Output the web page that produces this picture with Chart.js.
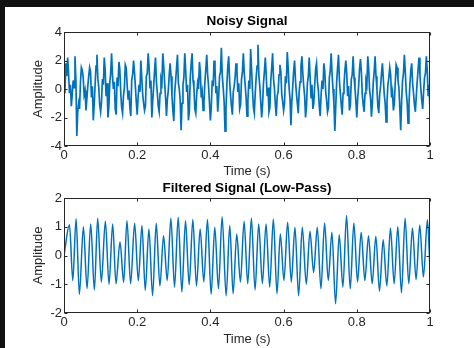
<!DOCTYPE html>
<html>
<head>
<meta charset="utf-8">
<script src="https://cdn.jsdelivr.net/npm/chart.js@4"></script>
<style>
html, body { margin: 0; padding: 0; background: #fff; }
#wrap { position: relative; width: 474px; height: 348px; overflow: hidden; background: #fff; }
canvas { position: absolute; left: 0; }
#topChart { top: 0; }
#botChart { top: 180px; }
.edge { position: absolute; background: #111; }
</style>
</head>
<body>
<div id="wrap">
  <canvas id="topChart" width="474" height="180" style="width:474px;height:180px"></canvas>
  <canvas id="botChart" width="474" height="168" style="width:474px;height:168px"></canvas>
  <div class="edge" style="left:0;top:0;width:474px;height:7px"></div>
  <div class="edge" style="left:0;top:0;width:5px;height:348px"></div>
</div>
<script>
// tick labels
const timeTicks = [0, 0.2, 0.4, 0.6, 0.8, 1];
const noisyTicks = [-4, -2, 0, 2, 4];
const filteredTicks = [-2, -1, 0, 1, 2];

// noisy signal, every 2.5 ms
const noisyDt = 0.0025;
const noisyAmp = [
  0.4, -0.3, 1.8, 0.9, 2.2, 1.1, -0.3, 0.3, -1.2, -0.4,
  0.6, 0.1, 2.3, 0.6, -3.3, -1.6, -1.0, -1.4, 0.5, 1.5,
  1.3, 0.8, -0.4, -0.1, -1.5, -0.7, 0.2, 0.9, 1.5, 1.2,
  -0.6, 0.2, -2.2, -1.1, 0.3, 1.6, 2.4, 0.7, 0.1, -1.1,
  -1.6, -0.9, 0.7, 0.3, 2.2, 1.3, -0.5, 0.4, -2.0, -1.3,
  0.4, 1.1, 2.5, 0.9, 0.0, 0.5, -1.4, -1.8, 0.8, 0.2,
  1.9, 1.4, -0.2, -1.3, -1.7, -0.5, 0.1, 1.7, 1.5, 0.3,
  -0.7, -0.1, -1.3, -1.9, 0.6, 1.0, 2.0, 1.2, 0.2, -0.9,
  -1.8, -0.6, 0.3, -0.2, 2.0, 0.8, -0.4, -1.0, -1.5, -1.2,
  0.9, 1.1, 2.5, 1.5, 0.1, 0.6, -2.0, -0.8, 0.2, 1.3,
  2.2, 0.5, -0.3, -1.2, -1.6, -0.3, 0.7, 0.4, 2.5, 1.6,
  0.4, -0.6, -1.9, -0.7, -0.1, 1.0, 1.8, 0.9, -0.5, -1.5,
  -2.25, -0.2, 0.6, 1.5, 2.4, 0.4, 0.0, -0.8, -2.9, -1.0,
  0.3, 0.8, 2.5, 1.3, -0.2, 0.3, -2.2, -1.5, 0.8, 1.8,
  2.5, 0.6, 0.1, -1.4, -1.7, -0.4, 0.4, 0.0, 1.9, 1.2,
  -0.6, -0.2, -1.5, -0.9, 0.5, 1.4, 2.4, 1.0, 0.2, -1.0,
  -2.2, -1.2, 0.6, 0.2, 2.0, 1.5, -0.3, 0.2, -1.6, -0.6,
  0.9, 1.2, 2.9, 0.9, 0.1, -0.9, -2.95, -1.4, 0.3, 1.6,
  2.3, 0.6, -0.4, -1.2, -1.8, -0.2, 0.2, 0.8, 1.8, 1.3,
  -0.2, 0.4, -1.4, -1.1, 0.7, 1.2, 2.5, 1.1, 0.3, -0.6,
  -1.9, -0.8, 0.6, 0.0, 2.8, 1.4, -0.1, -1.3, -1.7, -0.3,
  0.8, 1.6, 3.1, 0.9, 0.2, -0.9, -2.0, -1.1, 0.4, 1.2,
  2.2, 1.0, -0.5, 0.1, -1.6, -1.3, 0.6, 1.5, 2.5, 0.7,
  0.0, -1.1, -1.9, -0.5, -0.2, 1.0, 1.7, 1.2, -0.4, -0.9,
  -1.5, -1.0, 0.9, 0.4, 2.6, 1.5, 0.1, -0.7, -2.55, -0.9,
  0.2, 1.3, 2.0, 0.6, -0.3, -1.0, -1.7, -0.2, 0.5, 1.6,
  2.3, 1.1, 0.2, -0.5, -2.0, -1.2, 0.4, 0.9, 2.2, 0.8,
  -0.6, 0.3, -1.4, -1.0, 0.3, 1.4, 1.8, 0.5, -0.1, -1.2,
  -1.9, -0.4, 0.6, 0.0, 1.8, 1.2, -0.2, -0.8, -1.6, -1.3,
  0.8, 1.3, 2.5, 1.0, 0.0, -1.0, -2.95, -1.2, 0.5, 1.5,
  2.4, 0.6, -0.3, -1.1, -1.8, -0.3, 0.3, 1.3, 2.0, 1.1,
  -0.5, 0.2, -1.5, -1.1, 0.7, 1.0, 2.3, 0.8, 0.1, -0.9,
  -2.0, -0.6, 0.2, 1.4, 2.1, 1.2, -0.4, -1.1, -1.6, -0.3,
  0.6, 0.3, 2.3, 1.4, -0.1, -0.6, -1.95, -1.0, 0.5, 1.2,
  2.3, 0.9, 0.0, -1.2, -1.7, -0.4, 0.2, 1.1, 1.8, 0.7,
  -0.4, -1.0, -2.3, -0.9, 0.3, 0.8, 1.5, 1.0, -0.6, -0.2,
  -1.5, -1.0, 0.4, 1.7, 1.5, 0.6, 0.1, -1.3, -2.9, -0.8,
  0.6, 1.1, 2.4, 1.2, -0.2, -0.9, -2.4, -1.1, 0.3, 1.3,
  1.8, 0.4, -0.3, -1.1, -1.6, -0.5, 0.5, 1.4, 2.2, 1.0,
  0.0, -0.8, -1.4, -0.2, 0.8, 1.1, 2.3, 1.3, -0.5, 0.3,
  -1.5
];

// filtered signal: peaks and troughs (time in s, amplitude)
const filteredTime = [
  0, 0.015, 0.024, 0.033, 0.042, 0.053, 0.063, 0.073, 0.083, 0.092,
  0.102, 0.113, 0.123, 0.133, 0.142, 0.153, 0.163, 0.172, 0.182, 0.193,
  0.203, 0.213, 0.222, 0.232, 0.242, 0.252, 0.262, 0.272, 0.282, 0.292,
  0.302, 0.312, 0.322, 0.332, 0.342, 0.352, 0.362, 0.372, 0.382, 0.392,
  0.402, 0.412, 0.422, 0.432, 0.443, 0.453, 0.462, 0.472, 0.482, 0.492,
  0.502, 0.512, 0.522, 0.532, 0.542, 0.552, 0.562, 0.572, 0.582, 0.591,
  0.601, 0.611, 0.621, 0.631, 0.641, 0.651, 0.662, 0.672, 0.682, 0.692,
  0.702, 0.712, 0.722, 0.732, 0.742, 0.752, 0.762, 0.772, 0.782, 0.792,
  0.802, 0.812, 0.822, 0.832, 0.842, 0.852, 0.862, 0.872, 0.882, 0.892,
  0.902, 0.912, 0.922, 0.932, 0.942, 0.952, 0.962, 0.972, 0.982, 0.993,
  1.0
];
const filteredAmp = [
  0, 1.07, -0.87, 1.28, -1.35, 1.0, -1.15, 1.1, -1.2, 1.3,
  -0.92, 1.19, -1.0, 1.1, -0.98, 0.47, -0.93, 1.21, -0.98, 1.12,
  -0.88, 1.04, -1.21, 0.92, -1.4, 1.12, -1.06, 0.69, -0.87, 1.3,
  -1.1, 1.33, -1.27, 1.21, -1.02, 1.25, -1.06, 0.92, -0.92, 1.25,
  -1.35, 0.98, -1.16, 1.35, -1.4, 1.04, -1.33, 0.75, -0.92, 1.19,
  -0.98, 1.3, -1.2, 1.1, -0.98, 1.1, -1.1, 1.27, -1.33, 0.75,
  -0.87, 1.16, -0.92, 0.98, -1.4, 0.98, -1.0, 0.84, -0.59, 0.98,
  -1.16, 1.13, -0.87, 0.81, -1.68, 0.72, -1.1, 1.39, -1.16, 1.13,
  -0.92, 0.81, -0.87, 0.69, -0.98, 0.67, -1.24, 0.55, -1.06, 0.96,
  -0.98, 1.0, -1.3, 1.3, -0.98, 0.96, -0.84, 1.06, -0.75, 1.24,
  -0.5
];

const lineBlue = '#0072BD';
const axisGray = '#262626';
const fontFamily = '"Liberation Sans", Arial, Helvetica, sans-serif';

// box round the plot with inward ticks, like the original figure
const boxPlugin = {
  id: 'box',
  afterDatasetsDraw(chart) {
    const { ctx, chartArea: a, scales } = chart;
    const l = Math.round(a.left) + 0.5, r = Math.round(a.right) - 0.5;
    const t = Math.round(a.top) + 0.5, b = Math.round(a.bottom) - 0.5;
    ctx.save();
    ctx.strokeStyle = axisGray;
    ctx.lineWidth = 1;
    ctx.strokeRect(l, t, r - l, b - t);
    ctx.beginPath();
    scales.x.ticks.forEach(tk => {
      const px = Math.round(scales.x.getPixelForValue(tk.value)) + 0.5;
      ctx.moveTo(px, b); ctx.lineTo(px, b - 3);
      ctx.moveTo(px, t); ctx.lineTo(px, t + 3);
    });
    scales.y.ticks.forEach(tk => {
      const py = Math.round(scales.y.getPixelForValue(tk.value)) + 0.5;
      ctx.moveTo(l, py); ctx.lineTo(l + 3, py);
      ctx.moveTo(r, py); ctx.lineTo(r - 3, py);
    });
    ctx.stroke();
    ctx.restore();
  }
};

function makeChart(id, o) {
  return new Chart(document.getElementById(id), {
    type: 'line',
    data: {
      datasets: [{
        data: o.points,
        borderColor: lineBlue,
        borderWidth: o.lineWidth,
        pointRadius: 0,
        tension: o.smooth ? 0.4 : 0,
        cubicInterpolationMode: o.smooth ? 'monotone' : 'default'
      }]
    },
    options: {
      responsive: false,
      animation: false,
      events: [],
      layout: { padding: { left: 0, right: 44, top: 0, bottom: 0 } },
      plugins: {
        legend: { display: false },
        tooltip: { enabled: false },
        title: {
          display: true,
          fullSize: false,
          text: o.title,
          color: '#000',
          font: { family: fontFamily, size: 13.5, weight: 'bold', lineHeight: 1.2 },
          padding: o.titlePad
        }
      },
      scales: {
        x: {
          type: 'linear',
          min: 0,
          max: 1,
          grid: { display: false, drawTicks: false },
          border: { display: false },
          afterBuildTicks: s => { s.ticks = timeTicks.map(v => ({ value: v })); },
          afterFit: s => { s.height = o.xHeight; },
          ticks: {
            padding: o.xTickPad,
            color: axisGray,
            autoSkip: false,
            maxRotation: 0,
            callback: v => String(v),
            font: { family: fontFamily, size: 13, lineHeight: 1.2 }
          },
          title: {
            display: true,
            text: 'Time (s)',
            color: axisGray,
            font: { family: fontFamily, size: 13, lineHeight: 1.2 },
            padding: { top: 0, bottom: o.xTitlePad }
          }
        },
        y: {
          type: 'linear',
          min: o.yTicks[0],
          max: o.yTicks[o.yTicks.length - 1],
          grid: { display: false, drawTicks: false },
          border: { display: false },
          afterBuildTicks: s => { s.ticks = o.yTicks.map(v => ({ value: v })); },
          afterFit: s => { s.width = 64; },
          ticks: {
            padding: 2,
            color: axisGray,
            callback: v => String(v),
            font: { family: fontFamily, size: 13, lineHeight: 1.2 }
          },
          title: {
            display: true,
            text: 'Amplitude',
            color: axisGray,
            font: { family: fontFamily, size: 13, lineHeight: 1.2 },
            padding: { top: 31, bottom: 0 }
          }
        }
      }
    },
    plugins: [boxPlugin]
  });
}

makeChart('topChart', {
  title: 'Noisy Signal',
  titlePad: { top: 13, bottom: 2.8 },
  points: noisyAmp.map((v, i) => ({ x: i * noisyDt, y: v })),
  yTicks: noisyTicks,
  xHeight: 34,
  xTickPad: 2,
  xTitlePad: 1,
  lineWidth: 1.7,
  smooth: false
});

makeChart('botChart', {
  title: 'Filtered Signal (Low-Pass)',
  titlePad: { top: 0, bottom: 1.8 },
  points: filteredTime.map((t, i) => ({ x: t, y: filteredAmp[i] })),
  yTicks: filteredTicks,
  xHeight: 35,
  xTickPad: 1.5,
  xTitlePad: 0.5,
  lineWidth: 1.5,
  smooth: true
});
</script>
</body>
</html>
